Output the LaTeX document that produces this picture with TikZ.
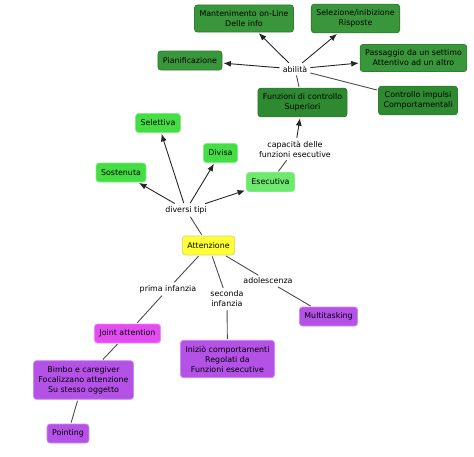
\documentclass[tikz,border=0pt]{standalone}
\usepackage{fontspec}
\setmainfont{DejaVu Sans}
\usepackage{tikz}
\usetikzlibrary{arrows.meta}
\definecolor{cmdkgreen}{HTML}{3A963A}
\definecolor{cmdkline}{HTML}{2F7F2F}
\definecolor{cmdkgreenb}{HTML}{2E8A30}
\definecolor{cmltgreen}{HTML}{44DE44}
\definecolor{cmltline}{HTML}{80EE80}
\definecolor{cmpale}{HTML}{6EE86E}
\definecolor{cmyellow}{HTML}{FFFF33}
\definecolor{cmyline}{HTML}{D2D28A}
\definecolor{cmmagenta}{HTML}{E24CF0}
\definecolor{cmmline}{HTML}{F08AF8}
\definecolor{cmpurple}{HTML}{B452E8}
\definecolor{cmpline}{HTML}{CE8AF2}
\newcommand{\cmfont}{\fontsize{7.9}{10}\selectfont}
\tikzset{
  cmbox/.style={draw,rounded corners=3pt,align=center,inner xsep=5pt,
    inner ysep=5.5pt,font=\cmfont,minimum height=19pt,line width=0.8pt},
  cmdark/.style={cmbox,fill=cmdkgreen,draw=cmdkline},
  cmdeep/.style={cmbox,fill=cmdkgreenb,draw=cmdkline},
  cmlight/.style={cmbox,fill=cmltgreen,draw=cmltline},
  cmpaleg/.style={cmbox,fill=cmpale,draw=cmltline},
  cmroot/.style={cmbox,fill=cmyellow,draw=cmyline},
  cmmag/.style={cmbox,fill=cmmagenta,draw=cmmline},
  cmpur/.style={cmbox,fill=cmpurple,draw=cmpline},
  cmlabel/.style={align=center,inner sep=2pt,font=\cmfont},
  cmflow/.style={-{Latex[length=7.5pt,width=6pt]},line width=0.9pt,black!85,
    shorten >=1pt,shorten <=1pt},
  cmline/.style={line width=0.9pt,black!70,shorten >=1pt,shorten <=1pt},
}

\begin{document}
\begin{tikzpicture}[x=1pt,y=-1pt]
\useasboundingbox (0,0) rectangle (474,456);
% Top: executive functions and abilities
\node[cmdark] (mant) at (244,18.5) {Mantenimento on-Line\\Delle info};
\node[cmdark] (sel) at (355.5,18.5) {Selezione/inibizione\\Risposte};
\node[cmdark] (pian) at (190,60.5) {Pianificazione};
\node[cmdark] (pass) at (413.5,58) {Passaggio da un settimo\\Attentivo ad un altro};
\node[cmdeep] (impulsi) at (418,100.5) {Controllo impulsi\\Comportamentali};
\node[cmdeep] (funz) at (302.5,102.5) {Funzioni di controllo\\Superiori};
\node[cmlabel] (abil) at (295,69) {abilità};
\node[cmlabel] (capac) at (295,149) {capacità delle\\funzioni esecutive};
% Middle: kinds of attention
\node[cmlight] (selett) at (158,123) {Selettiva};
\node[cmlight] (divisa) at (220.5,153) {Divisa};
\node[cmlight] (sost) at (121,172.5) {Sostenuta};
\node[cmpaleg] (esec) at (270.5,182) {Esecutiva};
\node[cmlabel] (tipi) at (186,210) {diversi tipi};
\node[cmroot] (att) at (208.5,245.5) {Attenzione};
% Bottom: development stages
\node[cmlabel] (prima) at (168,289) {prima infanzia};
\node[cmlabel] (seconda) at (227,299) {seconda\\infanzia};
\node[cmlabel] (adol) at (268,281) {adolescenza};
\node[cmpur] (multi) at (328.5,316.5) {Multitasking};
\node[cmmag] (joint) at (127.5,333.5) {Joint attention};
\node[cmpur] (inizio) at (227.5,359) {Iniziò comportamenti\\Regolati da\\Funzioni esecutive};
\node[cmpur] (bimbo) at (83.5,380) {Bimbo e caregiver\\Focalizzano attenzione\\Su stesso oggetto};
\node[cmpur] (point) at (68,433.5) {Pointing};
\draw[cmline] (att) -- (tipi);
\draw[cmflow] (tipi) -- (selett);
\draw[cmflow] (tipi) -- (divisa);
\draw[cmflow] (tipi) -- (sost);
\draw[cmflow] (tipi) -- (esec);
\draw[cmline] (esec) -- (capac);
\draw[cmflow] (capac) -- (funz);
\draw[cmline] (funz) -- (abil);
\draw[cmflow] (abil) -- (pian);
\draw[cmflow] (abil) -- (mant);
\draw[cmflow] (abil) -- (sel);
\draw[cmflow] (abil) -- (pass);
\draw[cmline] (abil) -- (impulsi);
\draw[cmline] (att) -- (prima);
\draw[cmline] (prima) -- (joint);
\draw[cmline] (joint) -- (bimbo);
\draw[cmline] (bimbo) -- (point);
\draw[cmline] (att) -- (seconda);
\draw[cmline] (seconda) -- (inizio);
\draw[cmline] (att) -- (adol);
\draw[cmline] (adol) -- (multi);
\end{tikzpicture}
\end{document}
